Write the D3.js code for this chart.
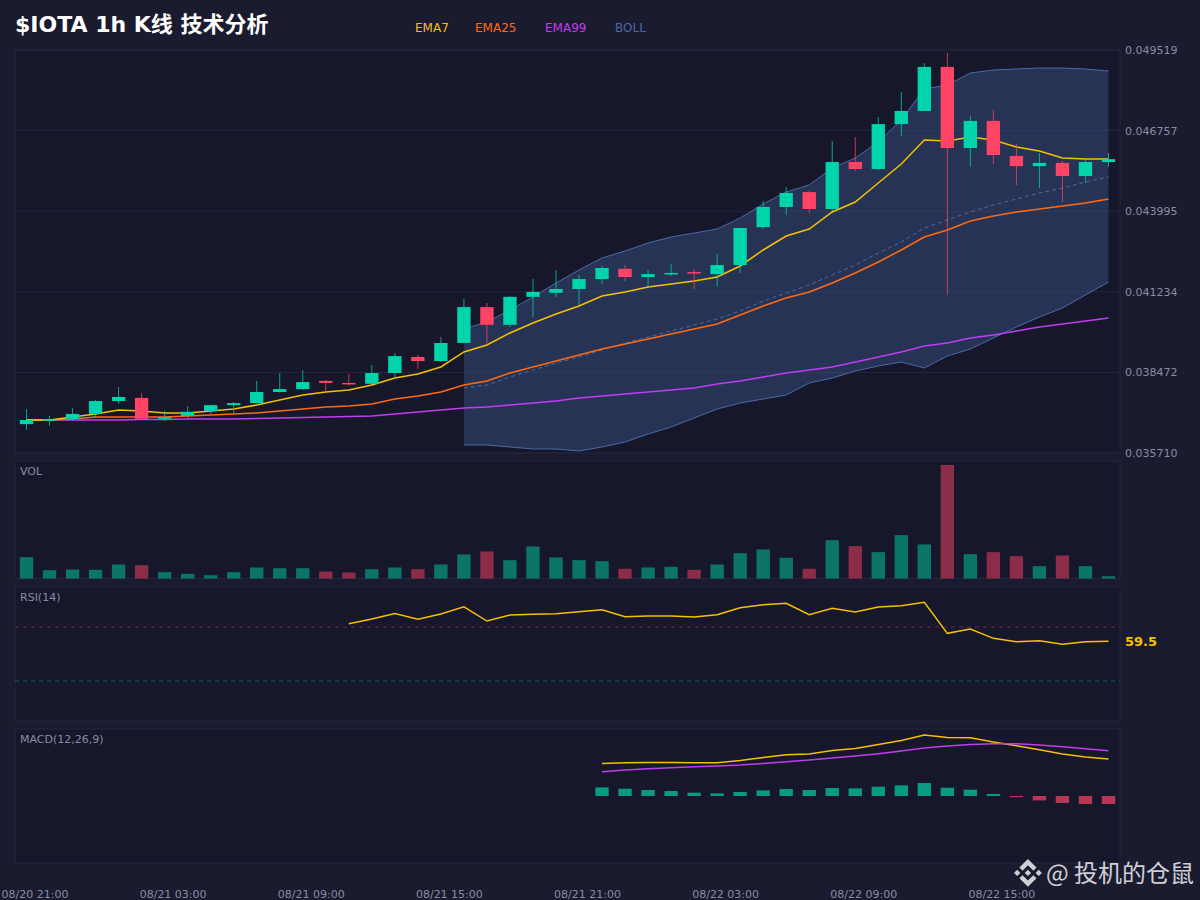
<!DOCTYPE html>
<html>
<head>
<meta charset="utf-8">
<script src="https://cdn.jsdelivr.net/npm/d3@7"></script>
<style>
  html, body { margin: 0; padding: 0; background: #1a1b2e; }
  svg { display: block; }
  text { font-family: "DejaVu Sans", "Noto Sans CJK SC", sans-serif; }
</style>
</head>
<body>
<svg id="chart"></svg>
<script>
// ---- data (1h candles, 08/20 21:00 -> 08/22 20:00) ----
const open  = [0.03670,0.03684,0.03688,0.03705,0.03749,0.03760,0.03688,0.03698,0.03715,0.03735,0.03742,0.03780,0.03790,0.03818,0.03811,0.03808,0.03845,0.03900,0.03886,0.03948,0.04071,0.04010,0.04106,0.04120,0.04133,0.04167,0.04202,0.04174,0.04184,0.04191,0.04184,0.04215,0.04345,0.04414,0.04465,0.04407,0.04568,0.04544,0.04698,0.04743,0.04894,0.04616,0.04709,0.04589,0.04554,0.04565,0.04520,0.04568]
const high  = [0.03722,0.03698,0.03725,0.03753,0.03797,0.03777,0.03715,0.03732,0.03736,0.03746,0.03818,0.03845,0.03855,0.03821,0.03842,0.03873,0.03914,0.03907,0.03969,0.04099,0.04085,0.04109,0.04167,0.04198,0.04181,0.04212,0.04215,0.04198,0.04219,0.04202,0.04253,0.04342,0.04435,0.04483,0.04469,0.04640,0.04654,0.04722,0.04808,0.04907,0.04942,0.04726,0.04746,0.04630,0.04599,0.04572,0.04575,0.04599]
const low   = [0.03650,0.03664,0.03681,0.03691,0.03739,0.03686,0.03681,0.03691,0.03705,0.03708,0.03736,0.03777,0.03787,0.03783,0.03801,0.03808,0.03825,0.03859,0.03883,0.03946,0.03945,0.04003,0.04037,0.04106,0.04078,0.04150,0.04160,0.04140,0.04178,0.04133,0.04140,0.04188,0.04339,0.04387,0.04393,0.04400,0.04537,0.04541,0.04657,0.04743,0.04112,0.04551,0.04561,0.04489,0.04479,0.04431,0.04496,0.04551]
const close = [0.03684,0.03686,0.03705,0.03749,0.03763,0.03688,0.03694,0.03712,0.03735,0.03742,0.03780,0.03790,0.03814,0.03811,0.03807,0.03845,0.03903,0.03886,0.03948,0.04071,0.04010,0.04106,0.04123,0.04133,0.04167,0.04205,0.04174,0.04184,0.04188,0.04188,0.04215,0.04342,0.04414,0.04462,0.04407,0.04568,0.04544,0.04698,0.04743,0.04894,0.04616,0.04709,0.04592,0.04554,0.04565,0.04520,0.04568,0.04578]
const volume = [213000,83000,90000,87000,140000,133000,63000,47000,33000,63000,110000,103000,103000,70000,60000,93000,110000,93000,140000,240000,270000,183000,320000,210000,183000,173000,97000,110000,117000,87000,140000,253000,290000,207000,97000,383000,323000,263000,433000,340000,1133000,243000,263000,223000,123000,230000,123000,23000]

const ema7  = [0.036841,0.036841,0.036944,0.037046,0.037183,0.037149,0.037081,0.037081,0.037149,0.037218,0.037355,0.037526,0.037697,0.037800,0.037869,0.038040,0.038280,0.038417,0.038657,0.039171,0.039411,0.039822,0.040165,0.040473,0.040747,0.041090,0.041227,0.041398,0.041501,0.041604,0.041741,0.042118,0.042666,0.043146,0.043385,0.043968,0.044311,0.044962,0.045613,0.046435,0.046401,0.046538,0.046435,0.046195,0.046058,0.045818,0.045784,0.045784]
const ema25 = [0.036841,0.036841,0.036875,0.036944,0.036944,0.036944,0.036944,0.036978,0.037012,0.037046,0.037081,0.037149,0.037218,0.037286,0.037321,0.037389,0.037560,0.037663,0.037800,0.038040,0.038177,0.038451,0.038657,0.038862,0.039068,0.039274,0.039445,0.039616,0.039788,0.039959,0.040130,0.040439,0.040747,0.041021,0.041227,0.041535,0.041878,0.042255,0.042666,0.043111,0.043351,0.043660,0.043831,0.043968,0.044071,0.044174,0.044276,0.044414]
const ema99 = [0.036841,0.036841,0.036841,0.036841,0.036841,0.036858,0.036858,0.036875,0.036875,0.036875,0.036892,0.036909,0.036926,0.036944,0.036961,0.036978,0.037046,0.037115,0.037183,0.037252,0.037286,0.037355,0.037423,0.037492,0.037595,0.037663,0.037732,0.037800,0.037869,0.037937,0.038074,0.038177,0.038314,0.038451,0.038554,0.038657,0.038828,0.038999,0.039171,0.039376,0.039479,0.039651,0.039753,0.039890,0.040027,0.040130,0.040233,0.040336]

// BOLL(20) starts at candle 19
const bollFrom = 19
const bollUpper = [0.039959,0.040199,0.040610,0.041055,0.041535,0.041981,0.042392,0.042632,0.042906,0.043111,0.043248,0.043385,0.043762,0.044242,0.044653,0.044893,0.045476,0.045818,0.046367,0.047120,0.048183,0.048320,0.048731,0.048834,0.048868,0.048902,0.048902,0.048868,0.048799]
const bollMid   = [0.037937,0.038040,0.038314,0.038554,0.038794,0.038999,0.039239,0.039479,0.039685,0.039890,0.040096,0.040302,0.040576,0.040918,0.041193,0.041467,0.041809,0.042152,0.042563,0.042940,0.043420,0.043694,0.043968,0.044208,0.044414,0.044619,0.044790,0.044996,0.045167]
const bollLower = [0.035984,0.035984,0.035916,0.035847,0.035847,0.035779,0.035916,0.036087,0.036361,0.036601,0.036909,0.037218,0.037423,0.037560,0.037697,0.038109,0.038280,0.038520,0.038691,0.038828,0.038623,0.039034,0.039274,0.039651,0.040027,0.040370,0.040679,0.041124,0.041569]

// RSI(14) starts at candle 14
const rsiFrom = 14
const rsi = [72.4,75.9,79.9,75.7,79.6,85.0,74.4,78.9,79.4,79.9,81.3,82.8,77.6,78.1,78.1,77.4,79.1,84.3,86.5,87.6,79.1,83.9,81.1,84.8,85.8,88.3,65.3,68.5,61.6,59.1,59.9,57.2,59.1,59.5]
const rsiLevels = [70, 30]

// MACD(12,26,9) starts at candle 25
const macdFrom = 25
const macdLine = [0.001118,0.001142,0.001152,0.001152,0.001142,0.001142,0.001221,0.001324,0.001417,0.001441,0.001564,0.001633,0.001770,0.001907,0.002092,0.002010,0.002000,0.001852,0.001725,0.001588,0.001441,0.001338,0.001269]
const macdSignal = [0.000833,0.000892,0.000936,0.000971,0.001005,0.001029,0.001063,0.001118,0.001176,0.001235,0.001303,0.001372,0.001451,0.001544,0.001646,0.001715,0.001770,0.001794,0.001794,0.001749,0.001691,0.001622,0.001554]
const macdHist = [0.000295,0.000250,0.000206,0.000172,0.000113,0.000089,0.000137,0.000192,0.000240,0.000206,0.000274,0.000261,0.000319,0.000364,0.000446,0.000285,0.000216,0.000069,-0.000040,-0.000151,-0.000240,-0.000274,-0.000274]

const priceTicks = [0.049519,0.046757,0.043995,0.041234,0.038472,0.035710]
const timeLabels = ['08/20 21:00','08/21 03:00','08/21 09:00','08/21 15:00','08/21 21:00','08/22 03:00','08/22 09:00','08/22 15:00']
const timeLabelIdx = [0,6,12,18,24,30,36,42]

// ---- layout / colours ----
const W = 1200, H = 900
const left = 15, right = 1120
const panes = {
  main: [50, 453],
  vol:  [461, 578.5],
  rsi:  [587, 721],
  macd: [729, 863]
}
const UP = '#00d4aa', DOWN = '#ff4466'
const GRID = '#23253b', AXIS_TEXT = '#8a8aa6'
const C_EMA7 = '#f5c000', C_EMA25 = '#ff6a10', C_EMA99 = '#c13cf2', C_BOLL = '#4a6aa8'

const svg = d3.select('#chart').attr('width', W).attr('height', H)
svg.append('rect').attr('width', W).attr('height', H).attr('fill', '#1a1b2e')

const idx = d3.range(close.length)
const x = d3.scaleBand().domain(idx).range([left, right]).paddingInner(0.42).paddingOuter(0.21)
const cx = i => x(i) + x.bandwidth() / 2

// panel backgrounds
Object.values(panes).forEach(([t, b]) => {
  svg.append('rect')
    .attr('x', left).attr('y', t).attr('width', right - left).attr('height', b - t)
    .attr('fill', '#16172a').attr('stroke', '#24253e').attr('stroke-width', 1)
})

// ---- main price pane ----
const y = d3.scaleLinear().domain(d3.extent(priceTicks)).range([panes.main[1], panes.main[0]])

svg.append('g')
  .selectAll('line').data(priceTicks).enter().append('line')
  .attr('x1', left).attr('x2', right)
  .attr('y1', d => y(d)).attr('y2', d => y(d))
  .attr('stroke', GRID).attr('stroke-width', 1)

const yAxis = svg.append('g')
  .attr('transform', `translate(${right},0)`)
  .call(d3.axisRight(y).tickValues(priceTicks).tickFormat(d3.format('.6f')).tickSize(0).tickPadding(5))
yAxis.select('.domain').remove()
yAxis.selectAll('text').attr('fill', AXIS_TEXT).style('font-size', '11px').style('font-family', 'DejaVu Sans')

// bollinger band
const bollIdx = d3.range(bollUpper.length)
svg.append('path')
  .datum(bollIdx)
  .attr('fill', 'rgba(74,106,168,0.34)')
  .attr('d', d3.area().x(j => cx(bollFrom + j)).y0(j => y(bollLower[j])).y1(j => y(bollUpper[j])))
const bollLine = arr => d3.line().x(j => cx(bollFrom + j)).y(j => y(arr[j]))
svg.append('path').datum(bollIdx).attr('fill', 'none').attr('stroke', C_BOLL).attr('stroke-width', 1).attr('d', bollLine(bollUpper))
svg.append('path').datum(bollIdx).attr('fill', 'none').attr('stroke', C_BOLL).attr('stroke-width', 1).attr('d', bollLine(bollLower))
svg.append('path').datum(bollIdx).attr('fill', 'none').attr('stroke', C_BOLL).attr('stroke-width', 1)
  .attr('stroke-dasharray', '4,3').attr('d', bollLine(bollMid))

// EMAs
;[[ema99, C_EMA99], [ema25, C_EMA25], [ema7, C_EMA7]].forEach(([arr, col]) => {
  svg.append('path').datum(idx)
    .attr('fill', 'none').attr('stroke', col).attr('stroke-width', 1.5)
    .attr('d', d3.line().x(i => cx(i)).y(i => y(arr[i])))
})

// candles
const candles = svg.append('g').selectAll('g').data(idx).enter().append('g')
const col = i => close[i] >= open[i] ? UP : DOWN
candles.append('line')
  .attr('x1', i => cx(i)).attr('x2', i => cx(i))
  .attr('y1', i => y(high[i])).attr('y2', i => y(low[i]))
  .attr('stroke', col).attr('stroke-opacity', 0.75).attr('stroke-width', 1)
candles.append('rect')
  .attr('x', i => x(i)).attr('width', x.bandwidth())
  .attr('y', i => y(Math.max(open[i], close[i])))
  .attr('height', i => Math.max(1.5, Math.abs(y(open[i]) - y(close[i]))))
  .attr('fill', col)

// ---- volume pane ----
const yv = d3.scaleLinear().domain([0, d3.max(volume)]).range([panes.vol[1], 465])
svg.append('g').selectAll('rect').data(idx).enter().append('rect')
  .attr('x', i => x(i)).attr('width', x.bandwidth())
  .attr('y', i => yv(volume[i])).attr('height', i => yv(0) - yv(volume[i]))
  .attr('fill', col).attr('fill-opacity', 0.5)

// ---- RSI pane ----
const yr = d3.scaleLinear().domain([0, 100]).range([721.5, 586.5])
svg.append('g').selectAll('line').data(rsiLevels).enter().append('line')
  .attr('x1', left).attr('x2', right)
  .attr('y1', d => yr(d)).attr('y2', d => yr(d))
  .attr('stroke', d => d > 50 ? DOWN : UP).attr('stroke-opacity', 0.4)
  .attr('stroke-dasharray', '4,4').attr('stroke-width', 1)
svg.append('path').datum(d3.range(rsi.length))
  .attr('fill', 'none').attr('stroke', C_EMA7).attr('stroke-width', 1.5)
  .attr('d', d3.line().x(j => cx(rsiFrom + j)).y(j => yr(rsi[j])))
svg.append('text')
  .attr('x', 1125).attr('y', yr(rsi[rsi.length - 1])).attr('dy', '0.35em')
  .attr('fill', C_EMA7).style('font-size', '13px').style('font-weight', 'bold')
  .text(rsi[rsi.length - 1].toFixed(1))

// ---- MACD pane ----
const mMax = d3.max([...macdLine, ...macdSignal, ...macdHist].map(Math.abs)) * 1.1
const ym = d3.scaleLinear().domain([-mMax, mMax]).range([panes.macd[1], panes.macd[0]])
const macdIdx = d3.range(macdLine.length)
svg.append('g').selectAll('rect').data(macdIdx).enter().append('rect')
  .attr('x', j => x(macdFrom + j)).attr('width', x.bandwidth())
  .attr('y', j => ym(Math.max(0, macdHist[j])))
  .attr('height', j => Math.max(1, Math.abs(ym(macdHist[j]) - ym(0))))
  .attr('fill', j => macdHist[j] >= 0 ? UP : DOWN).attr('fill-opacity', 0.7)
svg.append('path').datum(macdIdx).attr('fill', 'none').attr('stroke', C_EMA7).attr('stroke-width', 1.5)
  .attr('d', d3.line().x(j => cx(macdFrom + j)).y(j => ym(macdLine[j])))
svg.append('path').datum(macdIdx).attr('fill', 'none').attr('stroke', C_EMA99).attr('stroke-width', 1.5)
  .attr('d', d3.line().x(j => cx(macdFrom + j)).y(j => ym(macdSignal[j])))

// pane labels
;[['VOL', panes.vol[0]], ['RSI(14)', panes.rsi[0]], ['MACD(12,26,9)', panes.macd[0]]].forEach(([t, top]) => {
  svg.append('text').attr('x', 20).attr('y', top + 14)
    .attr('fill', AXIS_TEXT).style('font-size', '11px').text(t)
})

// time labels
svg.append('g').selectAll('text').data(timeLabelIdx).enter().append('text')
  .attr('x', i => cx(i) + 8.5).attr('y', 898)
  .attr('text-anchor', 'middle')
  .attr('fill', AXIS_TEXT).style('font-size', '11px')
  .text((i, k) => timeLabels[k])

// title + legend
svg.append('text').attr('x', 15).attr('y', 32)
  .attr('fill', '#ffffff').style('font-size', '22px').style('font-weight', 'bold')
  .text('$IOTA 1h K线 技术分析')
const legend = [['EMA7', C_EMA7, 415], ['EMA25', C_EMA25, 475], ['EMA99', C_EMA99, 545], ['BOLL', C_BOLL, 615]]
svg.append('g').selectAll('text').data(legend).enter().append('text')
  .attr('x', d => d[2]).attr('y', 32)
  .attr('fill', d => d[1]).style('font-size', '12px')
  .text(d => d[0])

// watermark
const wm = svg.append('g').attr('opacity', 0.88)
wm.append('path')
  .attr('transform', 'translate(1014,859) scale(0.22)')
  .attr('fill', '#e8e8ee')
  .attr('d', 'M38.73 53.2l24.59-24.58 24.6 24.6 14.3-14.31L63.32 0 24.42 38.9l14.31 14.3zM0 63.31l14.3-14.31 14.31 14.31-14.31 14.3zM38.73 73.41l24.59 24.59 24.6-24.6 14.31 14.29-38.9 38.91-38.91-38.88-.02-.02 14.33-14.29zM98 63.31L112.3 49l14.31 14.3-14.31 14.32zM77.83 63.3L63.32 48.78 52.59 59.51l-1.24 1.23-2.54 2.54 14.51 14.5 14.51-14.47z')
wm.append('text').attr('x', 1046).attr('y', 882)
  .attr('fill', '#e8e8ee').style('font-size', '24px')
  .style('font-family', '"Noto Sans CJK SC", "DejaVu Sans", sans-serif')
  .text('@ 投机的仓鼠')
</script>
</body>
</html>
